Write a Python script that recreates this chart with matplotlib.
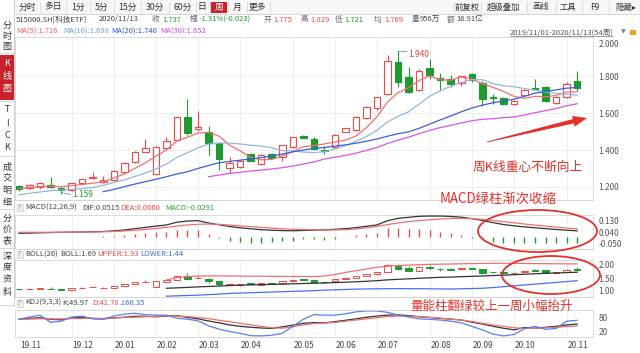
import numpy as np
import matplotlib.pyplot as plt
from matplotlib.patches import Rectangle, Ellipse, Polygon

plt.rcParams['font.family'] = ['Noto Sans CJK SC', 'DejaVu Sans']

W, H = 640, 353
RED = '#f04848'
GREEN = '#1f9a30'
BLUE = '#4169e1'
GRID = '#ebebeb'
SPINE = '#d4d4d4'
ANNO = '#e8302a'
FS = 5.5

# weekly candles 2019/11/01 - 2020/11/13 (54 weeks)
opens = [1.206, 1.192, 1.201, 1.210, 1.192, 1.183, 1.220, 1.246, 1.228, 1.237,
         1.279, 1.335, 1.391, 1.268, 1.409, 1.455, 1.578, 1.512, 1.496, 1.436,
         1.301, 1.306, 1.377, 1.324, 1.377, 1.364, 1.418, 1.476, 1.462, 1.398,
         1.418, 1.500, 1.509, 1.572, 1.627, 1.705, 1.880, 1.795, 1.726, 1.844,
         1.790, 1.784, 1.766, 1.811, 1.766, 1.690, 1.681, 1.650, 1.699, 1.738,
         1.744, 1.654, 1.690, 1.775]
highs = [1.212, 1.214, 1.225, 1.255, 1.197, 1.222, 1.245, 1.282, 1.259, 1.290,
         1.335, 1.395, 1.460, 1.422, 1.473, 1.585, 1.676, 1.614, 1.531, 1.440,
         1.364, 1.345, 1.382, 1.380, 1.385, 1.430, 1.472, 1.480, 1.470, 1.420,
         1.485, 1.522, 1.585, 1.640, 1.690, 1.916, 1.940, 1.853, 1.840, 1.893,
         1.817, 1.810, 1.810, 1.820, 1.775, 1.705, 1.690, 1.672, 1.730, 1.784,
         1.750, 1.695, 1.770, 1.829]
lows = [1.180, 1.188, 1.188, 1.195, 1.159, 1.178, 1.215, 1.244, 1.222, 1.230,
        1.275, 1.330, 1.388, 1.262, 1.404, 1.450, 1.482, 1.505, 1.373, 1.291,
        1.273, 1.300, 1.338, 1.320, 1.350, 1.342, 1.412, 1.465, 1.400, 1.380,
        1.410, 1.496, 1.505, 1.568, 1.620, 1.700, 1.744, 1.710, 1.720, 1.784,
        1.723, 1.745, 1.750, 1.770, 1.640, 1.650, 1.645, 1.645, 1.695, 1.730,
        1.660, 1.650, 1.685, 1.721]
closes = [1.190, 1.210, 1.219, 1.200, 1.184, 1.219, 1.241, 1.255, 1.237, 1.286,
          1.331, 1.391, 1.409, 1.418, 1.449, 1.581, 1.491, 1.523, 1.436, 1.349,
          1.331, 1.342, 1.342, 1.373, 1.355, 1.427, 1.469, 1.468, 1.406, 1.395,
          1.482, 1.518, 1.581, 1.636, 1.686, 1.886, 1.772, 1.717, 1.831, 1.808,
          1.782, 1.760, 1.802, 1.781, 1.676, 1.684, 1.650, 1.668, 1.726, 1.734,
          1.665, 1.690, 1.760, 1.737]

ma5 = [1.190, 1.196, 1.201, 1.203, 1.201, 1.206, 1.213, 1.220, 1.227, 1.248,
       1.270, 1.300, 1.331, 1.367, 1.400, 1.450, 1.470, 1.492, 1.496, 1.476,
       1.426, 1.396, 1.360, 1.347, 1.349, 1.368, 1.393, 1.418, 1.425, 1.433,
       1.444, 1.454, 1.476, 1.522, 1.581, 1.661, 1.712, 1.739, 1.778, 1.803,
       1.782, 1.780, 1.797, 1.787, 1.760, 1.741, 1.719, 1.692, 1.681, 1.692,
       1.689, 1.697, 1.715, 1.716]
ma10 = [1.156, 1.165, 1.172, 1.179, 1.183, 1.186, 1.190, 1.197, 1.208, 1.224,
        1.238, 1.256, 1.275, 1.297, 1.324, 1.360, 1.385, 1.412, 1.432, 1.438,
        1.438, 1.433, 1.426, 1.422, 1.412, 1.397, 1.395, 1.389, 1.386, 1.391,
        1.406, 1.424, 1.447, 1.474, 1.507, 1.553, 1.583, 1.608, 1.650, 1.692,
        1.722, 1.746, 1.768, 1.783, 1.782, 1.761, 1.749, 1.744, 1.734, 1.726,
        1.715, 1.708, 1.703, 1.698]
ma20 = [np.nan] * 8 + [
        1.174, 1.186, 1.201, 1.215, 1.228, 1.241, 1.255, 1.270, 1.282, 1.300,
        1.316, 1.331, 1.338, 1.345, 1.351, 1.359, 1.368, 1.378, 1.390, 1.400,
        1.409, 1.414, 1.422, 1.428, 1.437, 1.448, 1.460, 1.475, 1.489, 1.499,
        1.518, 1.541, 1.564, 1.585, 1.608, 1.628, 1.644, 1.657, 1.666, 1.676,
        1.692, 1.709, 1.718, 1.727, 1.736, 1.740]
ma30 = [np.nan] * 18 + [
        1.255, 1.264, 1.273, 1.279, 1.286, 1.291, 1.297, 1.304, 1.313, 1.324,
        1.335, 1.351, 1.361, 1.371, 1.383, 1.398, 1.414, 1.436, 1.454, 1.470,
        1.489, 1.507, 1.522, 1.534, 1.547, 1.559, 1.567, 1.570, 1.576, 1.580,
        1.590, 1.603, 1.614, 1.626, 1.640, 1.652]

dif = [0.032, 0.034, 0.036, 0.038, 0.040, 0.041, 0.042, 0.044, 0.046, 0.051,
       0.058, 0.068, 0.078, 0.088, 0.097, 0.118, 0.127, 0.130, 0.112, 0.098,
       0.085, 0.075, 0.067, 0.060, 0.056, 0.053, 0.052, 0.054, 0.057, 0.059,
       0.063, 0.068, 0.076, 0.087, 0.097, 0.130, 0.148, 0.156, 0.164, 0.166,
       0.166, 0.163, 0.157, 0.146, 0.132, 0.115, 0.100, 0.090, 0.082, 0.075,
       0.068, 0.062, 0.056, 0.0515]
dea = [0.040, 0.040, 0.040, 0.040, 0.040, 0.040, 0.041, 0.042, 0.044, 0.046,
       0.050, 0.056, 0.062, 0.070, 0.078, 0.088, 0.097, 0.102, 0.104, 0.101,
       0.096, 0.090, 0.084, 0.078, 0.072, 0.067, 0.063, 0.061, 0.060, 0.058,
       0.058, 0.060, 0.066, 0.075, 0.085, 0.100, 0.112, 0.123, 0.131, 0.137,
       0.143, 0.147, 0.148, 0.146, 0.140, 0.132, 0.123, 0.114, 0.104, 0.096,
       0.088, 0.080, 0.073, 0.066]
macd_bar = [0.006, 0.006, 0.006, 0.006, 0.006, 0.006, 0.006, 0.007, 0.008, 0.010,
            0.020, 0.030, 0.036, 0.040, 0.042, 0.055, 0.060, 0.055, 0.030, -0.004,
            -0.030, -0.036, -0.040, -0.040, -0.036, -0.030, -0.024, -0.015, -0.012, -0.018,
            -0.010, 0.004, 0.020, 0.025, 0.035, 0.070, 0.072, 0.066, 0.062, 0.058,
            0.046, 0.032, 0.018, -0.008, -0.003, -0.038, -0.040, -0.040, -0.040, -0.040,
            -0.040, -0.040, -0.040, -0.041]

boll_mid = [np.nan] * 14 + [
            1.220, 1.232, 1.245, 1.260, 1.272, 1.285, 1.300, 1.310, 1.318, 1.325,
            1.332, 1.338, 1.349, 1.359, 1.366, 1.373, 1.385, 1.396, 1.409, 1.424,
            1.441, 1.464, 1.481, 1.494, 1.510, 1.525, 1.538, 1.545, 1.557, 1.567,
            1.576, 1.589, 1.601, 1.614, 1.628, 1.642, 1.654, 1.664, 1.676, 1.686]
boll_up = [np.nan] * 14 + [
           1.460, 1.530, 1.560, 1.575, 1.580, 1.580, 1.578, 1.575, 1.572, 1.570,
           1.567, 1.565, 1.563, 1.562, 1.560, 1.575, 1.620, 1.680, 1.730, 1.780,
           1.830, 1.860, 1.880, 1.895, 1.905, 1.915, 1.920, 1.926, 1.932, 1.938,
           1.945, 1.946, 1.946, 1.945, 1.942, 1.938, 1.935, 1.932, 1.930, 1.930]
boll_low = [np.nan] * 14 + [
            0.990, 1.000, 1.010, 1.020, 1.035, 1.050, 1.070, 1.080, 1.090, 1.100,
            1.110, 1.120, 1.130, 1.140, 1.150, 1.165, 1.175, 1.185, 1.195, 1.200,
            1.205, 1.208, 1.208, 1.208, 1.207, 1.204, 1.200, 1.199, 1.205, 1.212,
            1.220, 1.240, 1.265, 1.290, 1.315, 1.340, 1.365, 1.390, 1.415, 1.440]

kdj_k = [70, 74, 77, 70, 68, 76, 78, 74, 72, 76,
         79, 83, 83, 81, 84, 86, 78, 72, 63, 55,
         46, 40, 36, 33, 31, 38, 45, 53, 56, 55,
         60, 66, 72, 79, 84, 88, 89, 86, 81, 78,
         74, 71, 67, 58, 50, 40, 32, 25, 35, 32,
         36, 40, 46, 50]
kdj_d = [70, 71, 72, 72, 72, 73, 74, 74, 74, 76,
         78, 79, 81, 83, 85, 84, 82, 78, 73, 66,
         60, 53, 46, 40, 34, 32, 38, 46, 52, 54,
         57, 62, 67, 72, 77, 82, 84, 83, 81, 78,
         75, 71, 67, 61, 53, 46, 40, 34, 31, 31,
         34, 36, 39, 42]
kdj_j = [70, 80, 88, 57, 62, 80, 84, 72, 70, 84,
         92, 96, 90, 88, 88, 75, 70, 64, 42, 28,
         18, 10, 0, -1, 2, 10, 40, 70, 90, 88,
         88, 94, 102, 106, 106, 100, 88, 80, 72, 70,
         67, 62, 55, 40, 25, 7, -1, 5, 30, 40,
         27, 31, 62, 66]

month_idx = [0, 5, 9, 13, 17, 21, 26, 30, 34, 39, 43, 47, 52]
month_lbl = ['19.11', '19.12', '20.01', '20.02', '20.03', '20.04', '20.05',
             '20.06', '20.07', '20.08', '20.09', '20.10', '20.11']

n = len(closes)
x = np.arange(n)
XL = (-0.38, 54.51)
X0, X1 = 15, 593

fig = plt.figure(figsize=(6.4, 3.53), dpi=100)


def px_axes(x0, y0, x1, y1, z=0):
    ax = fig.add_axes([x0 / W, 1 - y1 / H, (x1 - x0) / W, (y1 - y0) / H], zorder=z)
    return ax


def xpix(i):
    return X0 + (i - XL[0]) * (X1 - X0) / (XL[1] - XL[0])


def panel(ax, ylim, ticks, labels):
    ax.set_xlim(*XL)
    ax.set_ylim(*ylim)
    ax.set_xticks([])
    ax.yaxis.tick_right()
    ax.set_yticks(ticks)
    ax.set_yticklabels(labels)
    ax.tick_params(axis='y', length=0, pad=4, labelsize=6, labelcolor='#555')
    for s in ax.spines.values():
        s.set_color(SPINE)
        s.set_linewidth(0.6)
    for m in month_idx[1:]:
        ax.axvline(m, color=GRID, lw=0.6, zorder=0)


def candles(ax, width=0.62, lw=0.8):
    for i in range(n):
        o, h, l, c = opens[i], highs[i], lows[i], closes[i]
        up = c >= o
        col = RED if up else GREEN
        ax.vlines(x[i], l, h, color=col, lw=lw, zorder=3)
        ax.bar(x[i], max(abs(c - o), 0.003), width=width, bottom=min(o, c),
               facecolor='white' if up else col, edgecolor=col, linewidth=lw, zorder=4)


# background chrome
bg = px_axes(0, 0, W, H, z=-1)
bg.set_xlim(0, W)
bg.set_ylim(H, 0)
bg.axis('off')

# toolbar
bg.add_patch(Rectangle((14, 0), W - 14, 14, facecolor='#f7f7f7', edgecolor='none'))
bg.plot([14, W], [14, 14], color='#d0d0d0', lw=0.6)
tools = [('分时', 27), ('多日', 53), ('1分', 78), ('5分', 102), ('15分', 127), ('30分', 155),
         ('60分', 183), ('日', 202), ('周', 219), ('月', 237), ('更多', 257)]
for s, cx in tools:
    if s == '周':
        bg.add_patch(Rectangle((211, 1.5), 16, 11, facecolor='#c8232c', edgecolor='none'))
        bg.text(cx, 7, s, fontsize=6.3, color='white', ha='center', va='center')
    else:
        bg.text(cx, 7, s, fontsize=6.3, color='#333', ha='center', va='center')
for sx in [40, 66, 90, 114, 141, 169, 196, 210, 228, 247, 270]:
    bg.plot([sx, sx], [2, 12], color='#d6d6d6', lw=0.6)
for s, cx in [('前复权', 467), ('超级叠加', 504), ('画线', 541), ('工具', 568), ('F9', 595), ('隐藏▸', 626)]:
    bg.text(cx, 7, s, fontsize=6, color='#333', ha='center', va='center')
for sx in [454, 481, 527, 556, 582, 609]:
    bg.plot([sx, sx], [2, 12], color='#d6d6d6', lw=0.6)

# sidebar
bg.plot([14, 14], [0, 306], color='#c8c8c8', lw=0.6)
bg.add_patch(Rectangle((0, 55), 13.5, 45, facecolor='#c8232c', edgecolor='none'))
side = [('分', 25), ('时', 36), ('图', 47), ('K', 64), ('线', 76), ('图', 88),
        ('T', 110), ('I', 123), ('C', 136), ('K', 147),
        ('成', 167), ('交', 178), ('明', 190), ('细', 202),
        ('分', 218), ('价', 229), ('表', 241),
        ('深', 257), ('度', 268), ('资', 280), ('料', 292)]
for s, cy in side:
    col = 'white' if 55 < cy < 100 else '#333'
    bg.text(7, cy, s, fontsize=6.5, color=col, ha='center', va='center')
for sy in [53, 101, 156, 209, 248, 305]:
    bg.plot([0, 14], [sy, sy], color='#d0d0d0', lw=0.6)

# info row
info = [('515000.SH[科技ETF]', 16, '#444'), ('2020/11/13', 99, '#444'),
        ('收', 152, '#666'), ('1.737', 162, GREEN), ('幅', 190, '#666'),
        ('-1.31%(-0.023)', 200, GREEN), ('开', 264, '#666'), ('1.775', 273, RED),
        ('高', 301, '#666'), ('1.829', 310, RED), ('低', 335, '#666'), ('1.721', 344, GREEN),
        ('均', 374, '#666'), ('1.769', 384, RED), ('量', 412, '#666'), ('956万', 420, '#444'),
        ('额', 447, '#666'), ('16.91亿', 456, '#444')]
for s, lx, col in info:
    bg.text(lx, 19.5, s, fontsize=FS, color=col, ha='left', va='center')
ma_info = [('MA(5):1.716', 16, '#f06060'), ('MA(10):1.698', 63, '#6f9fd6'),
           ('MA(20):1.740', 111, '#3050e0'), ('MA(30):1.652', 160, '#cf45e0')]
for s, lx, col in ma_info:
    bg.text(lx, 32, s, fontsize=FS, color=col, ha='left', va='center')
bg.text(510, 32.5, '2019/11/01-2020/11/13(54周)', fontsize=FS, color='#555', ha='left', va='center')
bg.plot([510, 613], [36, 36], color='#777', lw=0.5)
bg.text(623, 32, '▼', fontsize=4.5, color='#888', ha='center', va='center', family='DejaVu Sans')
bg.add_patch(Rectangle((630, 30), 6, 5, facecolor='#f0a020', edgecolor='none'))

# panel headers
headers = [
    (207.5, [('MACD(12,26,9)', 25, '#444'), ('DIF:0.0515', 82, '#444'),
             ('DEA:0.0660', 120, '#e8474d'), ('MACD:-0.0291', 165, '#2a9d3a')]),
    (254.5, [('BOLL(26)', 25, '#444'), ('BOLL:1.69', 60, '#444'),
             ('UPPER:1.93', 97, '#e8474d'), ('LOWER:1.44', 140, BLUE)]),
    (303, [('KDJ(9,3,3)', 25, '#444'), ('K:49.97', 62, '#444'),
           ('D:41.78', 92, '#e8474d'), ('J:66.35', 120, BLUE)]),
]
for hy, parts in headers:
    bg.add_patch(Rectangle((17, hy - 3.5), 5.5, 7, facecolor='#f2f2f2', edgecolor='#c0c0c0', lw=0.4))
    bg.text(19.75, hy, '?', fontsize=5, color='#888', ha='center', va='center')
    for s, lx, col in parts:
        bg.text(lx, hy, s, fontsize=FS, color=col, ha='left', va='center')
for ly in [200, 249, 297]:
    bg.plot([15, 593], [ly, ly], color=SPINE, lw=0.6)

# main K-line panel
ax = px_axes(X0, 37, X1, 200)
panel(ax, (1.1285, 2.0143), [1.2, 1.4, 1.6, 1.8, 2.0],
      ['1.200', '1.400', '1.600', '1.800', '2.000'])
ax.yaxis.get_majorticklabels()[-1].set_va('top')
for t in [1.2, 1.4, 1.6, 1.8]:
    ax.axhline(t, color=GRID, lw=0.6, zorder=0)
candles(ax)
ax.plot(x, ma5, color='#f07070', lw=0.9, zorder=5)
ax.plot(x, ma10, color='#93b6dc', lw=0.9, zorder=5)
ax.plot(x, ma20, color='#3a5fe0', lw=0.9, zorder=5)
ax.plot(x, ma30, color='#d955e8', lw=0.9, zorder=5)
hi_i = int(np.argmax(highs))
lo_i = int(np.argmin(lows))
ax.plot([hi_i, hi_i + 0.75], [highs[hi_i], highs[hi_i]], color='#5aa0a0', lw=0.6)
ax.text(hi_i + 1.0, highs[hi_i] - 0.02, '%.3f' % highs[hi_i], fontsize=6, color='#d84848', va='center')
ax.plot([lo_i, lo_i + 0.9], [lows[lo_i] + 0.01, lows[lo_i]], color='#5aa0a0', lw=0.6)
ax.text(lo_i + 1.05, lows[lo_i], '%.3f' % lows[lo_i], fontsize=6, color='#2a9d3a', va='center')

# MACD panel
axm = px_axes(X0, 215, X1, 249)
panel(axm, (-0.0896, 0.174), [-0.05, 0.04, 0.13], ['-0.050', '0.040', '0.130'])
bar_cols = [RED if v > 0 else GREEN for v in macd_bar]
axm.vlines(x, 0, macd_bar, colors=bar_cols, lw=1.0, zorder=3)
axm.plot(x, dif, color='#333333', lw=0.9, zorder=4)
axm.plot(x, dea, color='#f07070', lw=0.9, zorder=4)

# BOLL panel
axb = px_axes(X0, 260, X1, 297)
panel(axb, (0.966, 2.042), [1.0, 1.5, 2.0], ['1.00', '1.50', '2.00'])
tl = axb.yaxis.get_majorticklabels()
tl[0].set_va('bottom')
tl[-1].set_va('top')
candles(axb, width=0.62, lw=0.7)
axb.plot(x, boll_up, color='#f07070', lw=0.9, zorder=5)
axb.plot(x, boll_mid, color='#333333', lw=0.9, zorder=5)
axb.plot(x, boll_low, color='#4a6ff0', lw=0.9, zorder=5)

# KDJ panel
axk = px_axes(X0, 310, X1, 337)
panel(axk, (-5.7, 110), [20, 80], ['20', '80'])
axk.plot(x, kdj_k, color='#333333', lw=0.9)
axk.plot(x, kdj_d, color='#f07070', lw=0.9)
axk.plot(x, kdj_j, color='#5a7ff0', lw=0.9)

# month labels
for m, lab in zip(month_idx, month_lbl):
    bg.text(xpix(m) + 1, 345, lab, fontsize=6, color='#444', ha='left', va='center')

# annotations on top
ov = px_axes(0, 0, W, H, z=10)
ov.set_xlim(0, W)
ov.set_ylim(H, 0)
ov.axis('off')
ov.text(528, 167.5, '周K线重心不断向上', fontsize=9.2, color=ANNO, ha='center', va='center')
ov.text(498, 199, 'MACD绿柱渐次收缩', fontsize=9.6, color=ANNO, ha='center', va='center')
ov.text(492, 306.5, '量能柱翻绿较上一周小幅抬升', fontsize=9.0, color=ANNO, ha='center', va='center')
ov.add_patch(Ellipse((537.5, 231), 119, 42, fill=False, edgecolor=ANNO, lw=1.3))
ov.add_patch(Ellipse((551, 275), 98, 38, fill=False, edgecolor=ANNO, lw=1.3))

tail = np.array([487.0, 142.0])
tip = np.array([587.0, 118.0])
u = (tip - tail) / np.linalg.norm(tip - tail)
nv = np.array([u[1], -u[0]])
base = tip - 14 * u
pts = [tail + 0.4 * nv, base + 2.2 * nv, base + 5.5 * nv, tip,
       base - 5.5 * nv, base - 2.2 * nv, tail - 0.4 * nv]
ov.add_patch(Polygon(pts, closed=True, facecolor=ANNO, edgecolor='none'))

fig.savefig('out.png', dpi=100, facecolor='white')
